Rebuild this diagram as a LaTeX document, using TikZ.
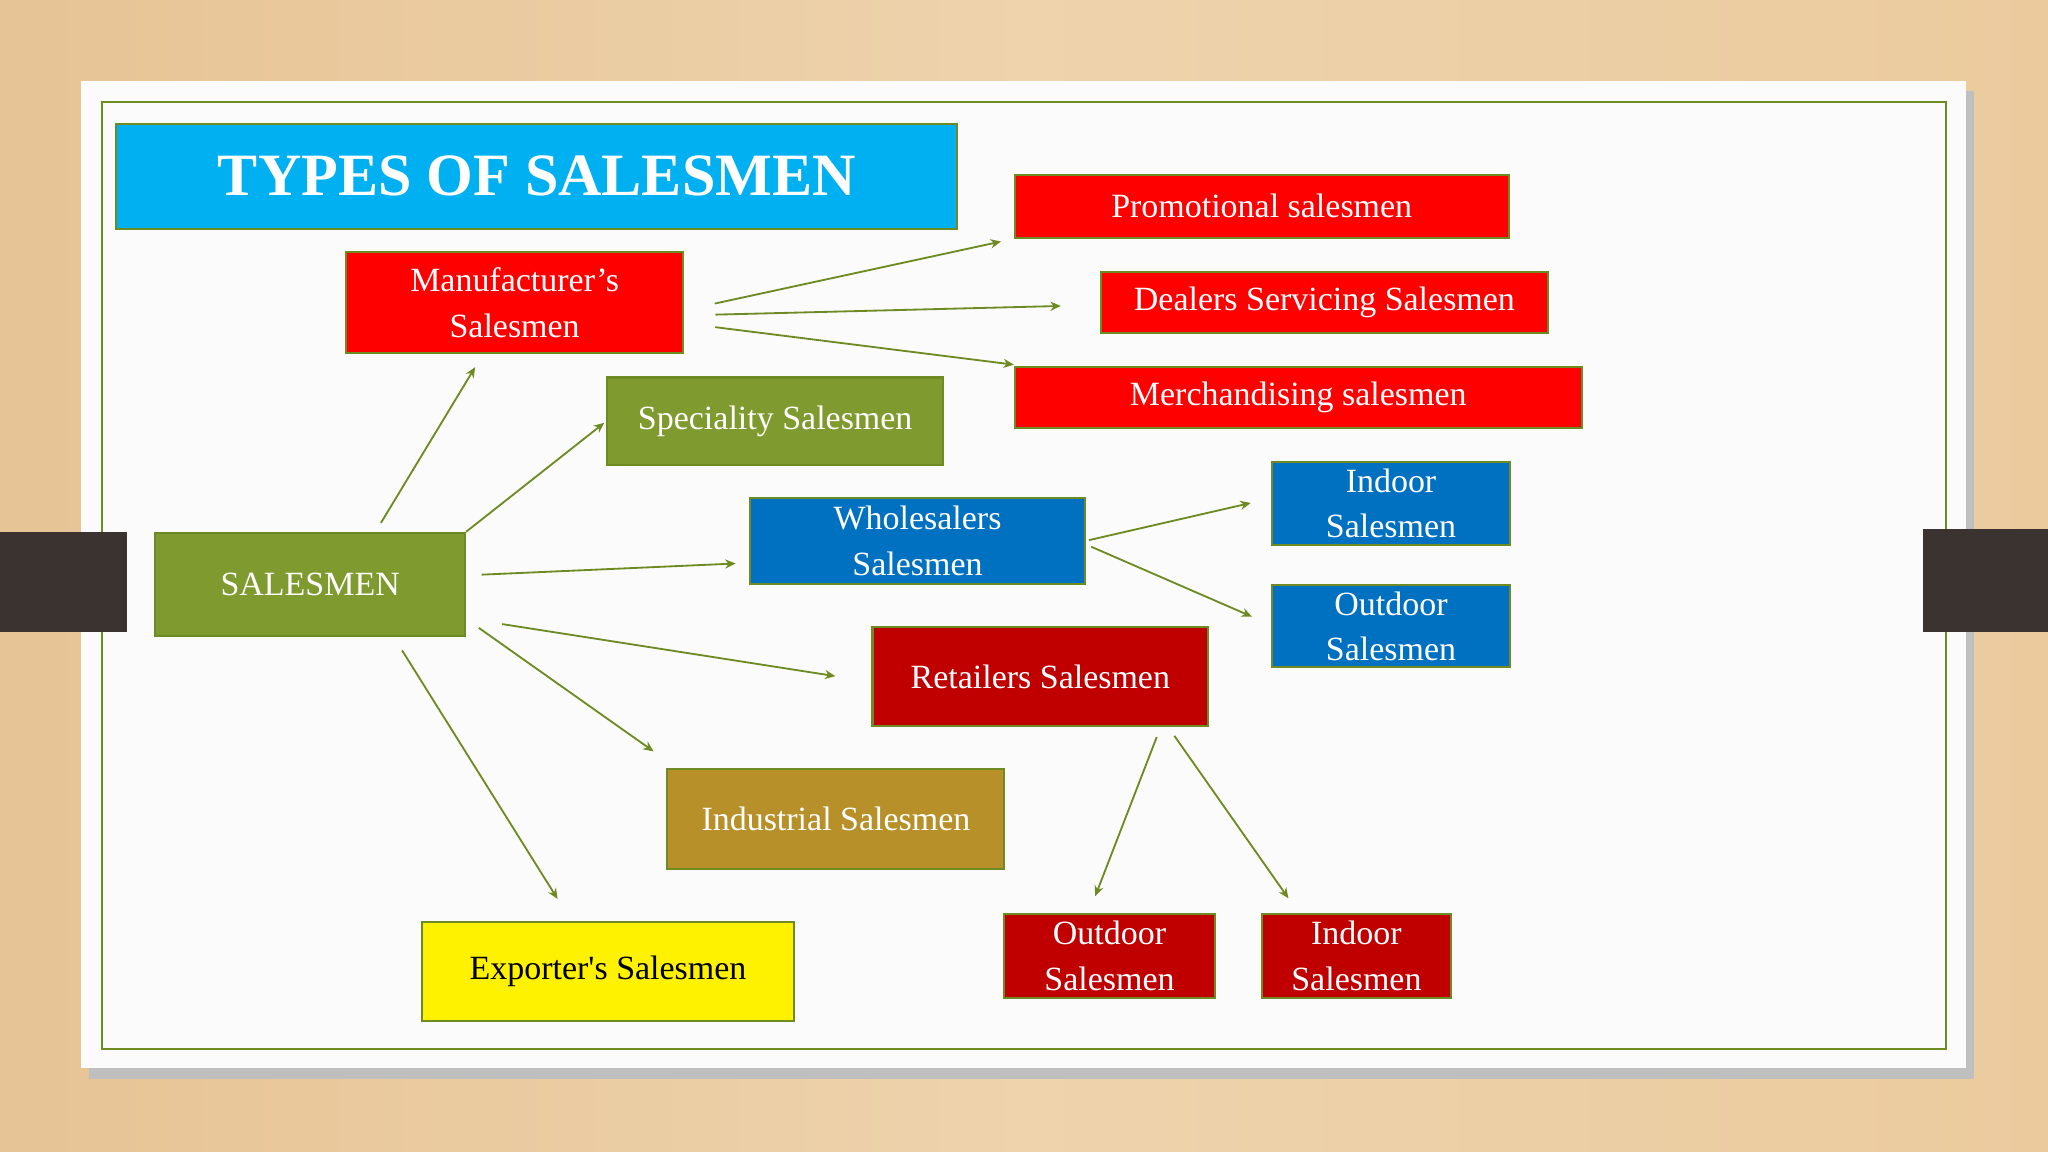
\documentclass[tikz,border=0pt]{standalone}
\usepackage{fontspec}
\setmainfont{Liberation Serif}
\newfontfamily\straightfont[Ligatures=ResetAll]{Liberation Serif}
\usetikzlibrary{arrows.meta}
\definecolor{wood}{HTML}{EBCB9E}
\definecolor{olive}{HTML}{7F9A2E}
\definecolor{oline}{HTML}{6E8A22}
\definecolor{skyb}{HTML}{00B0F0}
\definecolor{bluebx}{HTML}{0070C0}
\definecolor{darkred}{HTML}{C00000}
\definecolor{gold}{HTML}{B8902A}
\definecolor{tab}{HTML}{3A3330}
\tikzset{
  box/.style={draw=oline, line width=0.8pt, text=white, align=center,
    inner sep=0pt, font=\fontsize{13}{17.5}\selectfont},
  arr/.style={draw=oline, line width=0.7pt, -{Stealth[length=4pt,width=3.5pt]}}
}
\newcommand{\boxat}[7]{% name, x1, y1, x2, y2, fill, text
  \node[box, fill=#6, minimum width={(#4-#2)*0.5pt}, minimum height={(#5-#3)*0.5pt}]
    (#1) at ({(#2+#4)/2},{(#3+#5)/2}) {#7};}
\begin{document}
\begin{tikzpicture}[x=0.5pt,y=-0.5pt]
  % background
  \shade[left color=wood!90!brown, right color=wood, middle color=wood!85!white] (0,0) rectangle (1568,882);
  \fill[black!25] (68,70) rectangle (1511,826);
  \fill[white!97!gray] (62,62) rectangle (1505,818);
  \draw[oline, line width=1pt] (78,78) rectangle (1490,803);
  \fill[tab] (0,407) rectangle (97,484);
  \fill[tab] (1472,405) rectangle (1568,484);
  % boxes
  \node[box, fill=skyb, minimum width={644*0.5pt}, minimum height={80*0.5pt},
    font=\fontsize{23}{28}\selectfont\bfseries] (title) at (411,135) {TYPES OF SALESMEN};
  \boxat{manu}{265}{193}{523}{270}{red}{Manufacturer’s\\Salesmen}
  \boxat{promo}{777}{134}{1155}{182}{red}{Promotional salesmen}
  \boxat{deal}{843}{208}{1185}{255}{red}{Dealers Servicing Salesmen}
  \boxat{merch}{777}{281}{1211}{328}{red}{Merchandising salesmen}
  \boxat{spec}{465}{289}{722}{356}{olive}{Speciality Salesmen}
  \boxat{whole}{574}{381}{831}{447}{bluebx}{Wholesalers\\Salesmen}
  \boxat{windoor}{974}{354}{1156}{417}{bluebx}{Indoor\\Salesmen}
  \boxat{woutdoor}{974}{448}{1156}{511}{bluebx}{Outdoor\\Salesmen}
  \boxat{sal}{119}{408}{356}{487}{olive}{SALESMEN}
  \boxat{retail}{668}{480}{925}{556}{darkred}{Retailers Salesmen}
  \boxat{indus}{511}{589}{769}{665}{gold}{Industrial Salesmen}
  \node[box, fill=yellow, text=black, minimum width={285*0.5pt}, minimum height={76*0.5pt}]
    (export) at (465.5,744) {{\straightfont Exporter's} Salesmen};
  \boxat{routdoor}{769}{700}{930}{764}{darkred}{Outdoor\\Salesmen}
  \boxat{rindoor}{966}{700}{1111}{764}{darkred}{Indoor\\Salesmen}
  % arrows
  \draw[arr, shorten <=4pt, shorten >=6pt] ([xshift=25pt]sal.north) -- ([xshift=-12pt]manu.south);
  \draw[arr, shorten >=1pt] (sal.north east) -- (spec.west);
  \draw[arr, shorten <=6pt, shorten >=5pt] ([yshift=3.5pt]sal.east) -- ([yshift=-8.5pt]whole.west);
  \draw[arr, shorten <=14pt, shorten >=14pt] ([yshift=-13pt]sal.east) -- ([yshift=-2pt]retail.west);
  \draw[arr, shorten <=6pt, shorten >=6pt] ([yshift=7pt]sal.south east) -- ([yshift=3pt]indus.north west);
  \draw[arr, shorten <=6pt, shorten >=10pt] ([xshift=32pt]sal.south) -- ([xshift=-14pt]export.north);
  \draw[arr, shorten <=12pt, shorten >=5pt] ([yshift=-3pt]manu.east) -- (promo.south west);
  \draw[arr, shorten <=12pt, shorten >=15pt] ([yshift=-5pt]manu.east) -- ([yshift=-1pt]deal.west);
  \draw[arr, shorten <=12pt, shorten >=4pt] ([yshift=-8pt]manu.east) -- ([xshift=4pt]merch.north west);
  \draw[arr, shorten <=1pt, shorten >=8pt] (whole.east) -- ([yshift=2pt]windoor.west);
  \draw[arr, shorten <=2pt, shorten >=8pt] ([yshift=-1.5pt]whole.east) -- ([yshift=0.5pt]woutdoor.west);
  \draw[arr, shorten <=4pt, shorten >=7pt] ([xshift=46pt]retail.south) -- ([xshift=-8pt]routdoor.north);
  \draw[arr, shorten <=4pt, shorten >=7pt] ([xshift=49pt]retail.south) -- ([xshift=-22pt]rindoor.north);
\end{tikzpicture}
\end{document}
